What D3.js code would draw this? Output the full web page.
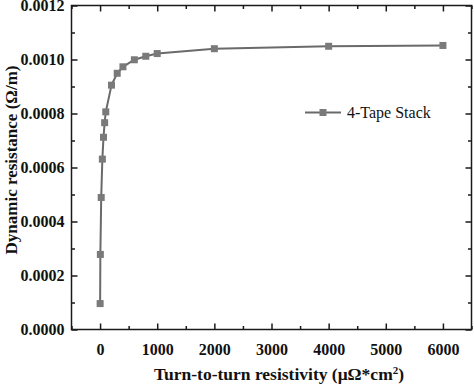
<!DOCTYPE html>
<html><head><meta charset="utf-8">
<script src="https://cdn.jsdelivr.net/npm/d3@7"></script>
<style>html,body{margin:0;padding:0;background:#fff;}svg{display:block;}</style>
</head><body>
<svg id="chart" width="474" height="384"></svg>
<script>
const resistivity = [1, 5, 20, 40, 60, 80, 100, 200, 300, 400, 600, 800, 1000, 2000, 4000, 6000];
const dynamicResistance = [0.000096, 0.000278, 0.000489, 0.000631, 0.000712, 0.000766, 0.000806, 0.000905, 0.000949, 0.000973, 0.000999, 0.001012, 0.001022, 0.001040, 0.001049, 0.001052];
const xTicks = [0, 1000, 2000, 3000, 4000, 5000, 6000];
const xMinor = [-500, 500, 1500, 2500, 3500, 4500, 5500, 6500];
const yTicks = [0, 0.0002, 0.0004, 0.0006, 0.0008, 0.0010, 0.0012];
const yMinor = [0.0001, 0.0003, 0.0005, 0.0007, 0.0009, 0.0011];
const seriesName = "4-Tape Stack";
const xTitle = "Turn-to-turn resistivity (μΩ*cm";
const yTitle = "Dynamic resistance (Ω/m)";

const L = 71.5, R = 471.5, T = 5.5, B = 329.5;
const svg = d3.select("#chart");
const x = d3.scaleLinear().domain([-500, 6500]).range([L, R]);
const y = d3.scaleLinear().domain([0, 0.0012]).range([B, T]);
const font = "'Liberation Serif', 'Times New Roman', serif";
const axisColor = "#1a1a1a";

// frame
svg.append("rect").attr("x", L).attr("y", T).attr("width", R - L).attr("height", B - T)
  .attr("fill", "none").attr("stroke", axisColor).attr("stroke-width", 1.5);

function styleAxis(g) {
  g.select(".domain").remove();
  g.selectAll(".tick line").attr("stroke", axisColor).attr("stroke-width", 1.5);
}
// bottom axis (inward ticks)
const gxb = svg.append("g").attr("transform", `translate(0,${B})`)
  .call(d3.axisBottom(x).tickValues(xTicks).tickSize(-6).tickPadding(14).tickFormat(d3.format("d")));
styleAxis(gxb);
gxb.selectAll("text").attr("font-family", font).attr("font-weight", "bold").attr("font-size", 16).attr("fill", "#111");
svg.append("g").attr("transform", `translate(0,${B})`)
  .call(d3.axisBottom(x).tickValues(xMinor).tickSize(-3.5).tickFormat(""))
  .call(styleAxis);
// top axis
svg.append("g").attr("transform", `translate(0,${T})`)
  .call(d3.axisTop(x).tickValues(xTicks).tickSize(-6).tickFormat("")).call(styleAxis);
svg.append("g").attr("transform", `translate(0,${T})`)
  .call(d3.axisTop(x).tickValues(xMinor).tickSize(-3.5).tickFormat("")).call(styleAxis);
// left axis
const gyl = svg.append("g").attr("transform", `translate(${L},0)`)
  .call(d3.axisLeft(y).tickValues(yTicks).tickSize(-6).tickPadding(7).tickFormat(d3.format(".4f")));
styleAxis(gyl);
gyl.selectAll("text").attr("font-family", font).attr("font-weight", "bold").attr("font-size", 16).attr("fill", "#111");
svg.append("g").attr("transform", `translate(${L},0)`)
  .call(d3.axisLeft(y).tickValues(yMinor).tickSize(-3.5).tickFormat("")).call(styleAxis);
// right axis
svg.append("g").attr("transform", `translate(${R},0)`)
  .call(d3.axisRight(y).tickValues(yTicks).tickSize(-6).tickFormat("")).call(styleAxis);
svg.append("g").attr("transform", `translate(${R},0)`)
  .call(d3.axisRight(y).tickValues(yMinor).tickSize(-3.5).tickFormat("")).call(styleAxis);

// series
const data = resistivity.map((v, i) => ({x: v, y: dynamicResistance[i]}));
const lineColor = "#6a6a6a", markColor = "#7a7a7a";
svg.append("path").datum(data)
  .attr("d", d3.line().x(d => x(d.x)).y(d => y(d.y)))
  .attr("fill", "none").attr("stroke", lineColor).attr("stroke-width", 2);
const ms = 7;
svg.append("g").selectAll("rect").data(data).join("rect")
  .attr("x", d => x(d.x) - ms / 2).attr("y", d => y(d.y) - ms / 2)
  .attr("width", ms).attr("height", ms).attr("fill", markColor);

// legend
const lg = svg.append("g").attr("transform", "translate(305,112.5)");
lg.append("line").attr("x1", 0).attr("x2", 36).attr("y1", 0).attr("y2", 0)
  .attr("stroke", lineColor).attr("stroke-width", 2);
lg.append("rect").attr("x", 18 - 3.5).attr("y", -3.5).attr("width", 7).attr("height", 7).attr("fill", markColor);
lg.append("text").attr("x", 42).attr("y", 5.5).text(seriesName)
  .attr("font-family", font).attr("font-size", 16).attr("fill", "#111");

// axis titles
const xt = svg.append("text").attr("x", 279).attr("y", 380).attr("text-anchor", "middle")
  .attr("font-family", font).attr("font-weight", "bold").attr("font-size", 17.5).attr("fill", "#111");
xt.append("tspan").text(xTitle);
xt.append("tspan").attr("baseline-shift", "super").attr("font-size", 11).text("2");
xt.append("tspan").text(")");
svg.append("text").attr("transform", "translate(17,160) rotate(-90)").attr("text-anchor", "middle")
  .attr("font-family", font).attr("font-weight", "bold").attr("font-size", 17).attr("fill", "#111")
  .text(yTitle);
</script>
</body></html>
